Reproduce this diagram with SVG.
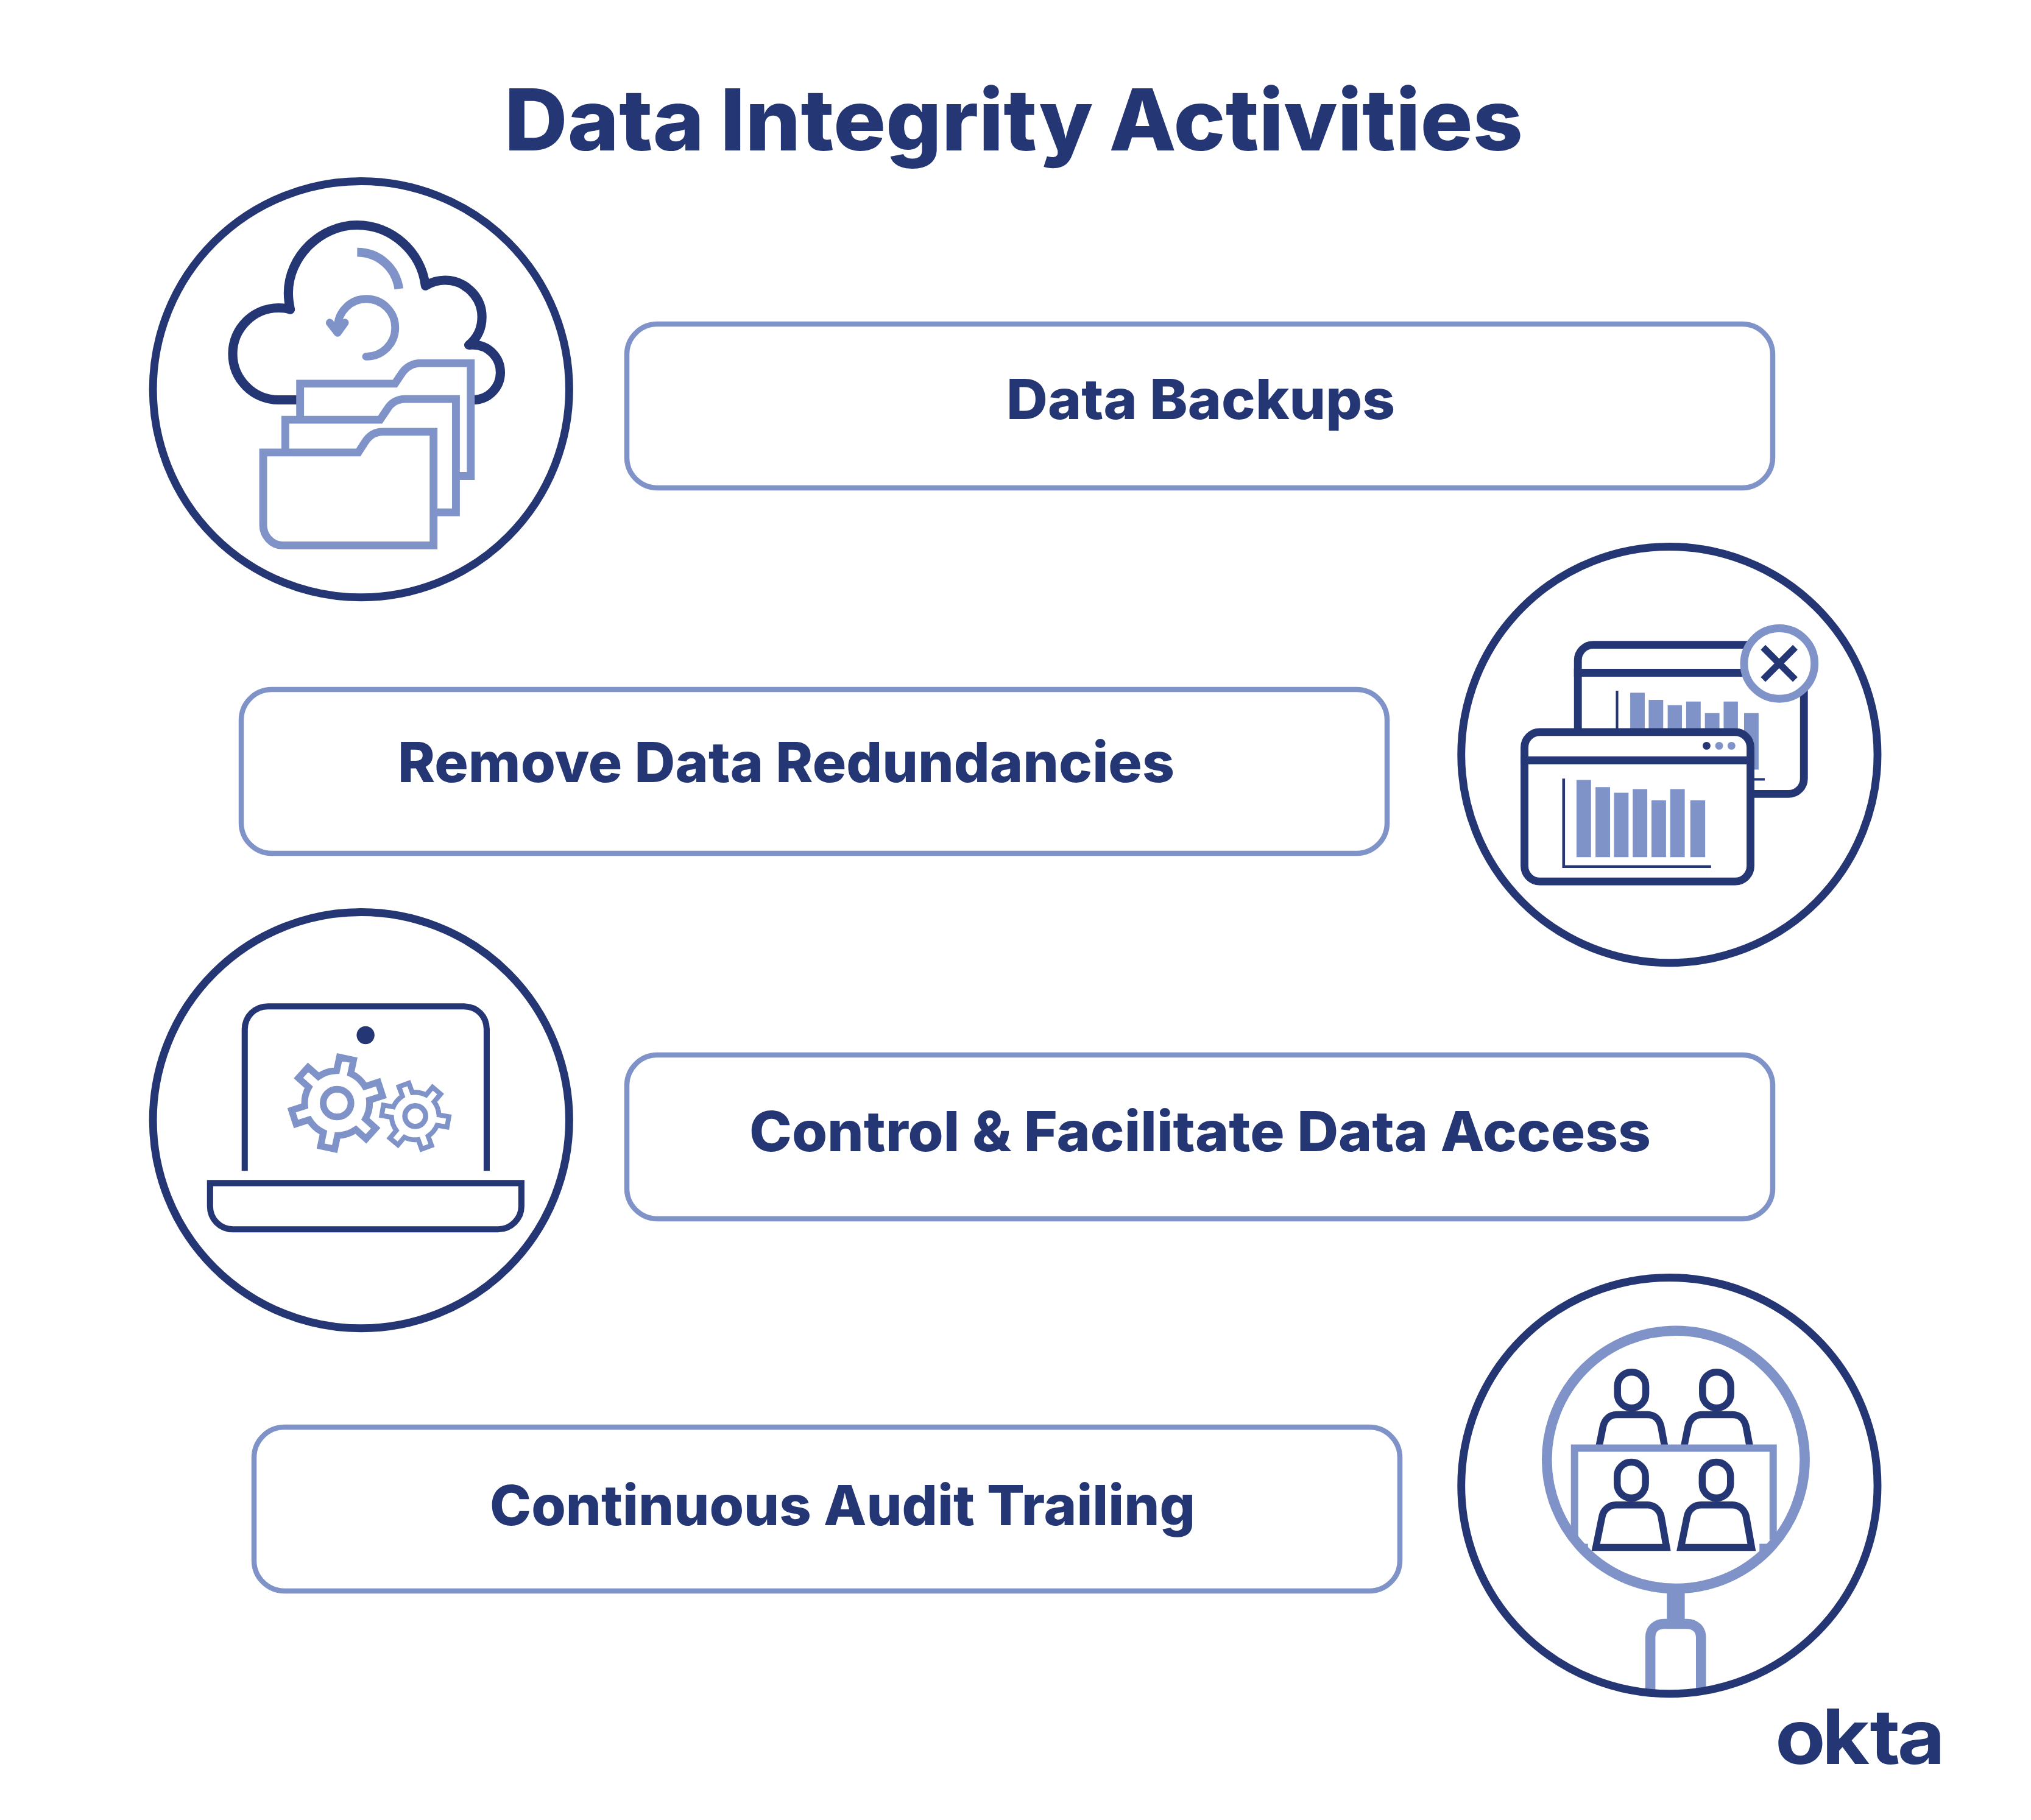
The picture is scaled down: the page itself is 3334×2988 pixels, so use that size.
<svg xmlns="http://www.w3.org/2000/svg" width="3334" height="2988" viewBox="0 0 3334 2988">
<style>
.t{font-family:Inter,"Liberation Sans",sans-serif;font-weight:800;fill:#253675}
.l{font-size:91px}
.box{fill:#fff;stroke:#7f93c9;stroke-width:8.5}
.ring{fill:none;stroke:#253675;stroke-width:28}
.dk{fill:none;stroke:#253675}
.lt{fill:none;stroke:#7f93c9}
.ltw{fill:#fff;stroke:#7f93c9}
.dkw{fill:#fff;stroke:#253675}
.fl{fill:#7f93c9}
.fd{fill:#253675}
</style>
<defs>
<path id="gear" d="M-35.5 -156L-35.5 -224L35.5 -224L35.5 -156A160 160 0 0 1 117.35 -108.74L176.23 -142.74L211.73 -81.26L152.85 -47.26A160 160 0 0 1 152.85 47.26L211.73 81.26L176.23 142.74L117.35 108.74A160 160 0 0 1 35.5 156L35.5 224L-35.5 224L-35.5 156A160 160 0 0 1 -117.35 108.74L-176.23 142.74L-211.73 81.26L-152.85 47.26A160 160 0 0 1 -152.85 -47.26L-211.73 -81.26L-176.23 -142.74L-117.35 -108.74A160 160 0 0 1 -35.5 -156Z" fill="none" stroke="#7f93c9" stroke-width="33"/>
<g id="head"><rect x="-50.5" y="-64" width="101" height="128" rx="50" ry="50" class="dk" stroke-width="25"/></g>
<path id="bodyTop" d="M512 640L526 570C532 545 550 528 575 528H685C710 528 727 545 733 570L746 640" class="dk" stroke-width="25"/>
<path id="bodyLow" d="M500 1003L523 890C528 868 548 851 572 851H685C708 851 727 868 733 890L753 1003Z" class="dk" stroke-width="25"/>
</defs>
<rect width="3334" height="2988" fill="#fff"/>
<text id="title" class="t" x="828" y="247" font-size="140" word-spacing="-5" textLength="1672" lengthAdjust="spacingAndGlyphs">Data Integrity Activities</text>

<g id="node-backups">
<rect class="box" x="1029" y="532" width="1881" height="269" rx="50"/>
<text class="t l" x="1652" y="688" textLength="638" lengthAdjust="spacingAndGlyphs">Data Backups</text>
<g transform="translate(230,280) scale(.4592)">
<circle class="ring" cx="790" cy="782" r="744"/>
<path class="dk" stroke-width="33" stroke-linejoin="round" d="M572 820H495C405 820 331 746 331 655C331 565 405 491 495 491C510 491 525 493 537 497C533 478 530 458 530 438C530 308 645 195 775 195C900 195 1005 290 1020 412C1040 400 1065 392 1090 392C1162 392 1222 452 1222 523C1222 565 1204 600 1175 624C1180 624 1185 623 1190 623C1245 623 1288 668 1288 722C1288 776 1245 820 1190 820"/>
<path class="lt" stroke-width="32" d="M776 292C855 292 915 350 925 423"/>
<path class="lt" stroke-width="28" stroke-linecap="round" d="M808 665A103 103 0 1 0 706 560"/>
<path class="lt" stroke-width="28" stroke-linecap="round" stroke-linejoin="round" d="M678 544L706 580L732 544"/>
<path class="ltw" stroke-width="28" d="M572 895V762H911L935 726C950 703 975 689 1000 689H1182V1092H1130"/>
<path class="ltw" stroke-width="28" d="M519 1012V891H858L882 855C897 830 920 817 948 817H1129V1222H1040"/>
<path class="ltw" stroke-width="28" d="M440 1008H780L803 972C818 948 840 934 868 934H1049V1340H508C470 1340 440 1305 440 1268Z"/>
</g>
</g>

<g id="node-redundancies">
<rect class="box" x="396" y="1132" width="1881" height="269" rx="50"/>
<text class="t l" x="653" y="1284" textLength="1275" lengthAdjust="spacingAndGlyphs">Remove Data Redundancies</text>
<g transform="translate(2390,880) scale(.4592)">
<circle class="ring" cx="763" cy="782" r="744"/>
<rect class="dkw" stroke-width="28" x="436" y="389" width="808" height="533" rx="55"/>
<path class="dk" stroke-width="28" d="M422 489H1100"/>
<path class="dk" stroke-width="9" d="M576 553V870H1104"/>
<path class="fl" d="M623 560h52v275h-52zM689 586h52v249h-52zM757 605h51v230h-51zM823 592h52v243h-52zM890 633h52v202h-52zM957 592h51v243h-51zM1030 633h52v202h-52z"/>
<circle class="ltw" stroke-width="28" cx="1156" cy="456" r="126"/>
<path class="dk" stroke-width="24" d="M1098 398L1213 513M1213 398L1098 513"/>
<rect class="dkw" stroke-width="28" x="245" y="701" width="808" height="534" rx="55"/>
<path class="dk" stroke-width="28" d="M231 802H1067"/>
<circle class="fd" cx="896" cy="750" r="14"/><circle class="fl" cx="941" cy="750" r="14"/><circle class="fl" cx="985" cy="750" r="14"/>
<path class="dk" stroke-width="10" d="M385 867V1182H912"/>
<path class="fl" d="M431 872h52v276h-52zM499 898h52v250h-52zM565 918h52v230h-52zM632 905h52v243h-52zM699 945h52v203h-52zM766 905h52v243h-52zM838 945h53v203h-53z"/>
</g>
</g>

<g id="node-access">
<rect class="box" x="1029" y="1732" width="1881" height="269" rx="50"/>
<text class="t l" x="1230" y="1890" textLength="1480" lengthAdjust="spacingAndGlyphs">Control &amp; Facilitate Data Access</text>
<g transform="translate(230,1480) scale(.4592)">
<circle class="ring" cx="790" cy="782" r="744"/>
<path class="dk" stroke-width="22" d="M374 963V458C374 410 410 375 458 375H1155C1205 375 1239 410 1239 458V963"/>
<circle class="fd" cx="806" cy="478" r="32"/>
<path class="dk" stroke-width="22" d="M250 1007H1363V1090C1363 1135 1325 1172 1280 1172H332C285 1172 250 1135 250 1090Z"/>
</g>
<g transform="translate(440,1700) scale(.33333)">
<use href="#gear" transform="translate(340,333) rotate(12)"/>
<circle cx="340" cy="333" r="68.5" class="lt" stroke-width="33"/>
<use href="#gear" transform="translate(725,397) rotate(-20) scale(.73)"/>
<circle cx="725" cy="397" r="51" class="lt" stroke-width="26"/>
</g>
</g>

<g id="node-audit">
<rect class="box" x="417" y="2343" width="1881" height="269" rx="50"/>
<text class="t l" x="804" y="2504" textLength="1158" lengthAdjust="spacingAndGlyphs">Continuous Audit Trailing</text>
<g transform="translate(2390,2080) scale(.4592)">
<use href="#head" x="628" y="440"/><use href="#head" x="932" y="440"/>
<use href="#bodyTop"/><use href="#bodyTop" x="304"/>
<path class="lt" stroke-width="26" d="M424 975V648H1134V975"/>
<path class="lt" stroke-width="26" d="M445 1003H472M1085 1003H1113"/>
<use href="#head" x="627" y="762"/><use href="#head" x="931" y="762"/>
<use href="#bodyLow"/><use href="#bodyLow" x="304"/>
<circle class="lt" stroke-width="36" cx="786" cy="689" r="461"/>
<path class="fl" d="M754 1165h64v125h-64z"/>
<path class="lt" stroke-width="36" d="M695 1515V1325C695 1295 715 1276 745 1276H825C855 1276 876 1295 876 1325V1515"/>
<circle class="ring" cx="763" cy="782" r="744"/>
</g>
</g>

<text id="logo" class="t" transform="translate(2914,2896) scale(1.08,1)" x="0 71 144 186" y="0" font-size="125" style="font-weight:700">okta</text>
</svg>
